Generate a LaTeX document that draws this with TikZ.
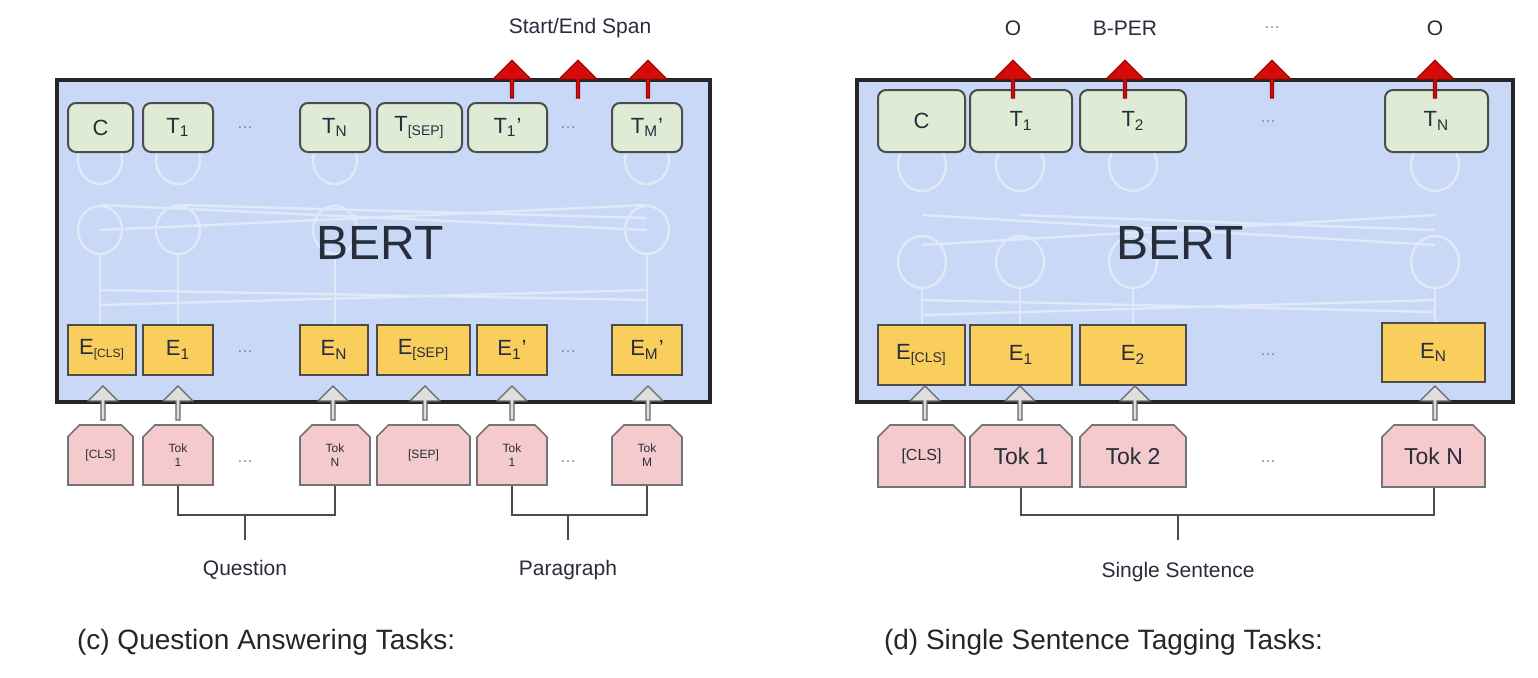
\documentclass[tikz,border=0pt]{standalone}
\usepackage{fontspec}
\setmainfont{Liberation Sans}
\usetikzlibrary{shapes.misc,shapes.arrows}
\definecolor{bertbg}{RGB}{200,216,246}
\definecolor{tgreen}{RGB}{222,236,214}
\definecolor{eyel}{RGB}{250,206,92}
\definecolor{tpink}{RGB}{245,202,204}
\definecolor{ared}{RGB}{215,10,10}
\definecolor{agray}{RGB}{222,222,222}
\definecolor{faint}{RGB}{214,226,246}
\definecolor{dtxt}{RGB}{40,45,60}
\tikzset{
 bert/.style={draw=black!85,line width=1.6pt,fill=bertbg},
 tbox/.style={draw=black!70,line width=1pt,fill=tgreen,rounded corners=4pt,inner sep=0pt,text=dtxt,font=\fontsize{11}{12}\selectfont},
 ebox/.style={draw=black!70,line width=1pt,fill=eyel,inner sep=0pt,text=dtxt,font=\fontsize{11}{12}\selectfont},
 pbox/.style={draw=black!55,line width=0.8pt,fill=tpink,chamfered rectangle,chamfered rectangle corners={north west,north east},chamfered rectangle xsep=3pt,chamfered rectangle ysep=3pt,inner sep=0pt,text=dtxt,align=center},
 small/.style={font=\fontsize{6}{7}\selectfont},
 big/.style={font=\fontsize{11.5}{13}\selectfont},
 redar/.style={single arrow,draw=ared!70!black,fill=ared,rotate=90,minimum height=19pt,minimum width=19pt,single arrow head extend=2.5pt,inner sep=0pt,line width=0.5pt},
 grayar/.style={single arrow,draw=black!60,fill=agray,rotate=90,minimum height=17pt,minimum width=15pt,single arrow head extend=2pt,inner sep=0pt,line width=0.6pt},
 dots/.style={text=black!50,font=\fontsize{8}{9}\selectfont},
 lbl/.style={text=dtxt,font=\fontsize{10.5}{12}\selectfont},
 captext/.style={text=black!85,font=\fontsize{14}{16}\selectfont,anchor=west},
 brk/.style={draw=black!70,line width=1pt},
 fl/.style={draw=faint!75!white,line width=1.2pt},
}
\newcommand{\bx}[7]{\node[#6,minimum width={(#4-#2)*0.5pt},minimum height={(#5-#3)*0.5pt}] (#1) at ({(#2+#4)/2},{(#3+#5)/2}) {#7};}
\begin{document}
\begin{tikzpicture}[x=0.5pt,y=-0.5pt]
\useasboundingbox[fill=white] (0,0) rectangle (1538,677);
% ---------- left panel ----------
\draw[bert] (57,80) rectangle (710,402);
\foreach \cx in {100,178,335,647}{
 \draw[fl] (\cx,160) ellipse (22 and 24);
 \draw[fl] (\cx,230) ellipse (22 and 24);
 \draw[fl] (\cx,152) -- (\cx,136);
 \draw[fl] (\cx,254) -- (\cx,325);}
\draw[fl] (100,205) -- (647,230) (100,230) -- (647,205) (178,205)--(647,218) (100,290)--(647,300) (100,305)--(647,290);
\node[text=dtxt,font=\fontsize{24}{26}\selectfont] (bertL) at (380,243) {BERT};
\bx{lC}{68}{103}{133}{152}{tbox}{C}
\bx{lT1}{143}{103}{213}{152}{tbox}{T\textsubscript{1}}
\node[dots] (ltd1) at (245,128) {\ldots};
\bx{lTN}{300}{103}{370}{152}{tbox}{T\textsubscript{N}}
\bx{lTS}{377}{103}{462}{152}{tbox}{T\textsubscript{\fontsize{7}{8}\selectfont[SEP]}}
\bx{lT1p}{468}{103}{547}{152}{tbox}{T\textsubscript{1}'}
\node[dots] (ltd2) at (568,128) {\ldots};
\bx{lTM}{612}{103}{682}{152}{tbox}{T\textsubscript{M}'}
\bx{lEC}{68}{325}{136}{375}{ebox}{E\textsubscript{\fontsize{6}{7}\selectfont[CLS]}}
\bx{lE1}{143}{325}{213}{375}{ebox}{E\textsubscript{1}}
\node[dots] (led1) at (245,352) {\ldots};
\bx{lEN}{300}{325}{368}{375}{ebox}{E\textsubscript{N}}
\bx{lES}{377}{325}{470}{375}{ebox}{E\textsubscript{\fontsize{7}{8}\selectfont[SEP]}}
\bx{lE1p}{477}{325}{547}{375}{ebox}{E\textsubscript{1}'}
\node[dots] (led2) at (568,352) {\ldots};
\bx{lEM}{612}{325}{682}{375}{ebox}{E\textsubscript{M}'}
\bx{lPC}{68}{425}{133}{485}{pbox,small}{[CLS]}
\bx{lP1}{143}{425}{213}{485}{pbox,small}{Tok\\1}
\node[dots] (lpd1) at (245,462) {\ldots};
\bx{lPN}{300}{425}{370}{485}{pbox,small}{Tok\\N}
\bx{lPS}{377}{425}{470}{485}{pbox,small}{[SEP]}
\bx{lP1p}{477}{425}{547}{485}{pbox,small}{Tok\\1}
\node[dots] (lpd2) at (568,462) {\ldots};
\bx{lPM}{612}{425}{682}{485}{pbox,small}{Tok\\M}
\foreach \n/\x in {a/103,b/178,c/333,d/425,e/512,f/648}{\node[grayar] (lg\n) at (\x,404) {};}
\foreach \n/\x in {a/512,b/578,c/648}{\node[redar] (lr\n) at (\x,80) {};}
\node[lbl] (lspan) at (580,28) {Start/End Span};
\coordinate (lq) at (245,515);
\coordinate (lpg) at (568,515);
\draw[brk] (lP1.south) |- (lq) -| (lPN.south);
\draw[brk] (lP1p.south) |- (lpg) -| (lPM.south);
\node[lbl] (lqs) at (245,570) {Question};
\node[lbl] (lps) at (568,570) {Paragraph};
\draw[brk] (lq) -- (245,540);
\draw[brk] (lpg) -- (568,540);
\node[captext] (capL) at (70,642) {(c) Question Answering Tasks:};
% ---------- right panel ----------
\draw[bert] (857,80) rectangle (1513,402);
\foreach \cx in {922,1020,1133,1435}{
 \draw[fl] (\cx,165) ellipse (24 and 26);
 \draw[fl] (\cx,262) ellipse (24 and 26);
 \draw[fl] (\cx,152) -- (\cx,139);
 \draw[fl] (\cx,288) -- (\cx,325);}
\draw[fl] (922,215) -- (1435,245) (922,245) -- (1435,215) (1020,215)--(1435,230) (922,300)--(1435,312) (922,315)--(1435,300);
\node[text=dtxt,font=\fontsize{24}{26}\selectfont] (bertR) at (1180,243) {BERT};
\bx{rC}{878}{90}{965}{152}{tbox}{C}
\bx{rT1}{970}{90}{1072}{152}{tbox}{T\textsubscript{1}}
\bx{rT2}{1080}{90}{1186}{152}{tbox}{T\textsubscript{2}}
\node[dots] (rtd) at (1268,122) {\ldots};
\bx{rTN}{1385}{90}{1488}{152}{tbox}{T\textsubscript{N}}
\bx{rEC}{878}{325}{965}{385}{ebox}{E\textsubscript{\fontsize{7}{8}\selectfont[CLS]}}
\bx{rE1}{970}{325}{1072}{385}{ebox}{E\textsubscript{1}}
\bx{rE2}{1080}{325}{1186}{385}{ebox}{E\textsubscript{2}}
\node[dots] (red) at (1268,355) {\ldots};
\bx{rEN}{1382}{323}{1485}{382}{ebox}{E\textsubscript{N}}
\bx{rPC}{878}{425}{965}{487}{pbox,font=\fontsize{8}{9}\selectfont}{[CLS]}
\bx{rP1}{970}{425}{1072}{487}{pbox,big}{Tok 1}
\bx{rP2}{1080}{425}{1186}{487}{pbox,big}{Tok 2}
\node[dots] (rpd) at (1268,462) {\ldots};
\bx{rPN}{1382}{425}{1485}{487}{pbox,big}{Tok N}
\foreach \n/\x in {a/925,b/1020,c/1135,d/1435}{\node[grayar] (rg\n) at (\x,404) {};}
\foreach \n/\x in {a/1013,b/1125,c/1272,d/1435}{\node[redar] (rr\n) at (\x,80) {};}
\node[lbl] (rla) at (1013,28) {O};
\node[lbl] (rlb) at (1125,28) {B-PER};
\node[dots] (rlc) at (1272,28) {\ldots};
\node[lbl] (rld) at (1435,28) {O};
\coordinate (rs) at (1178,515);
\draw[brk] (rP1.south) |- (rs) -| (rPN.south);
\draw[brk] (rs) -- (1178,540);
\node[lbl] (rss) at (1178,572) {Single Sentence};
\node[captext] (capR) at (877,642) {(d) Single Sentence Tagging Tasks:};
\end{tikzpicture}
\end{document}
